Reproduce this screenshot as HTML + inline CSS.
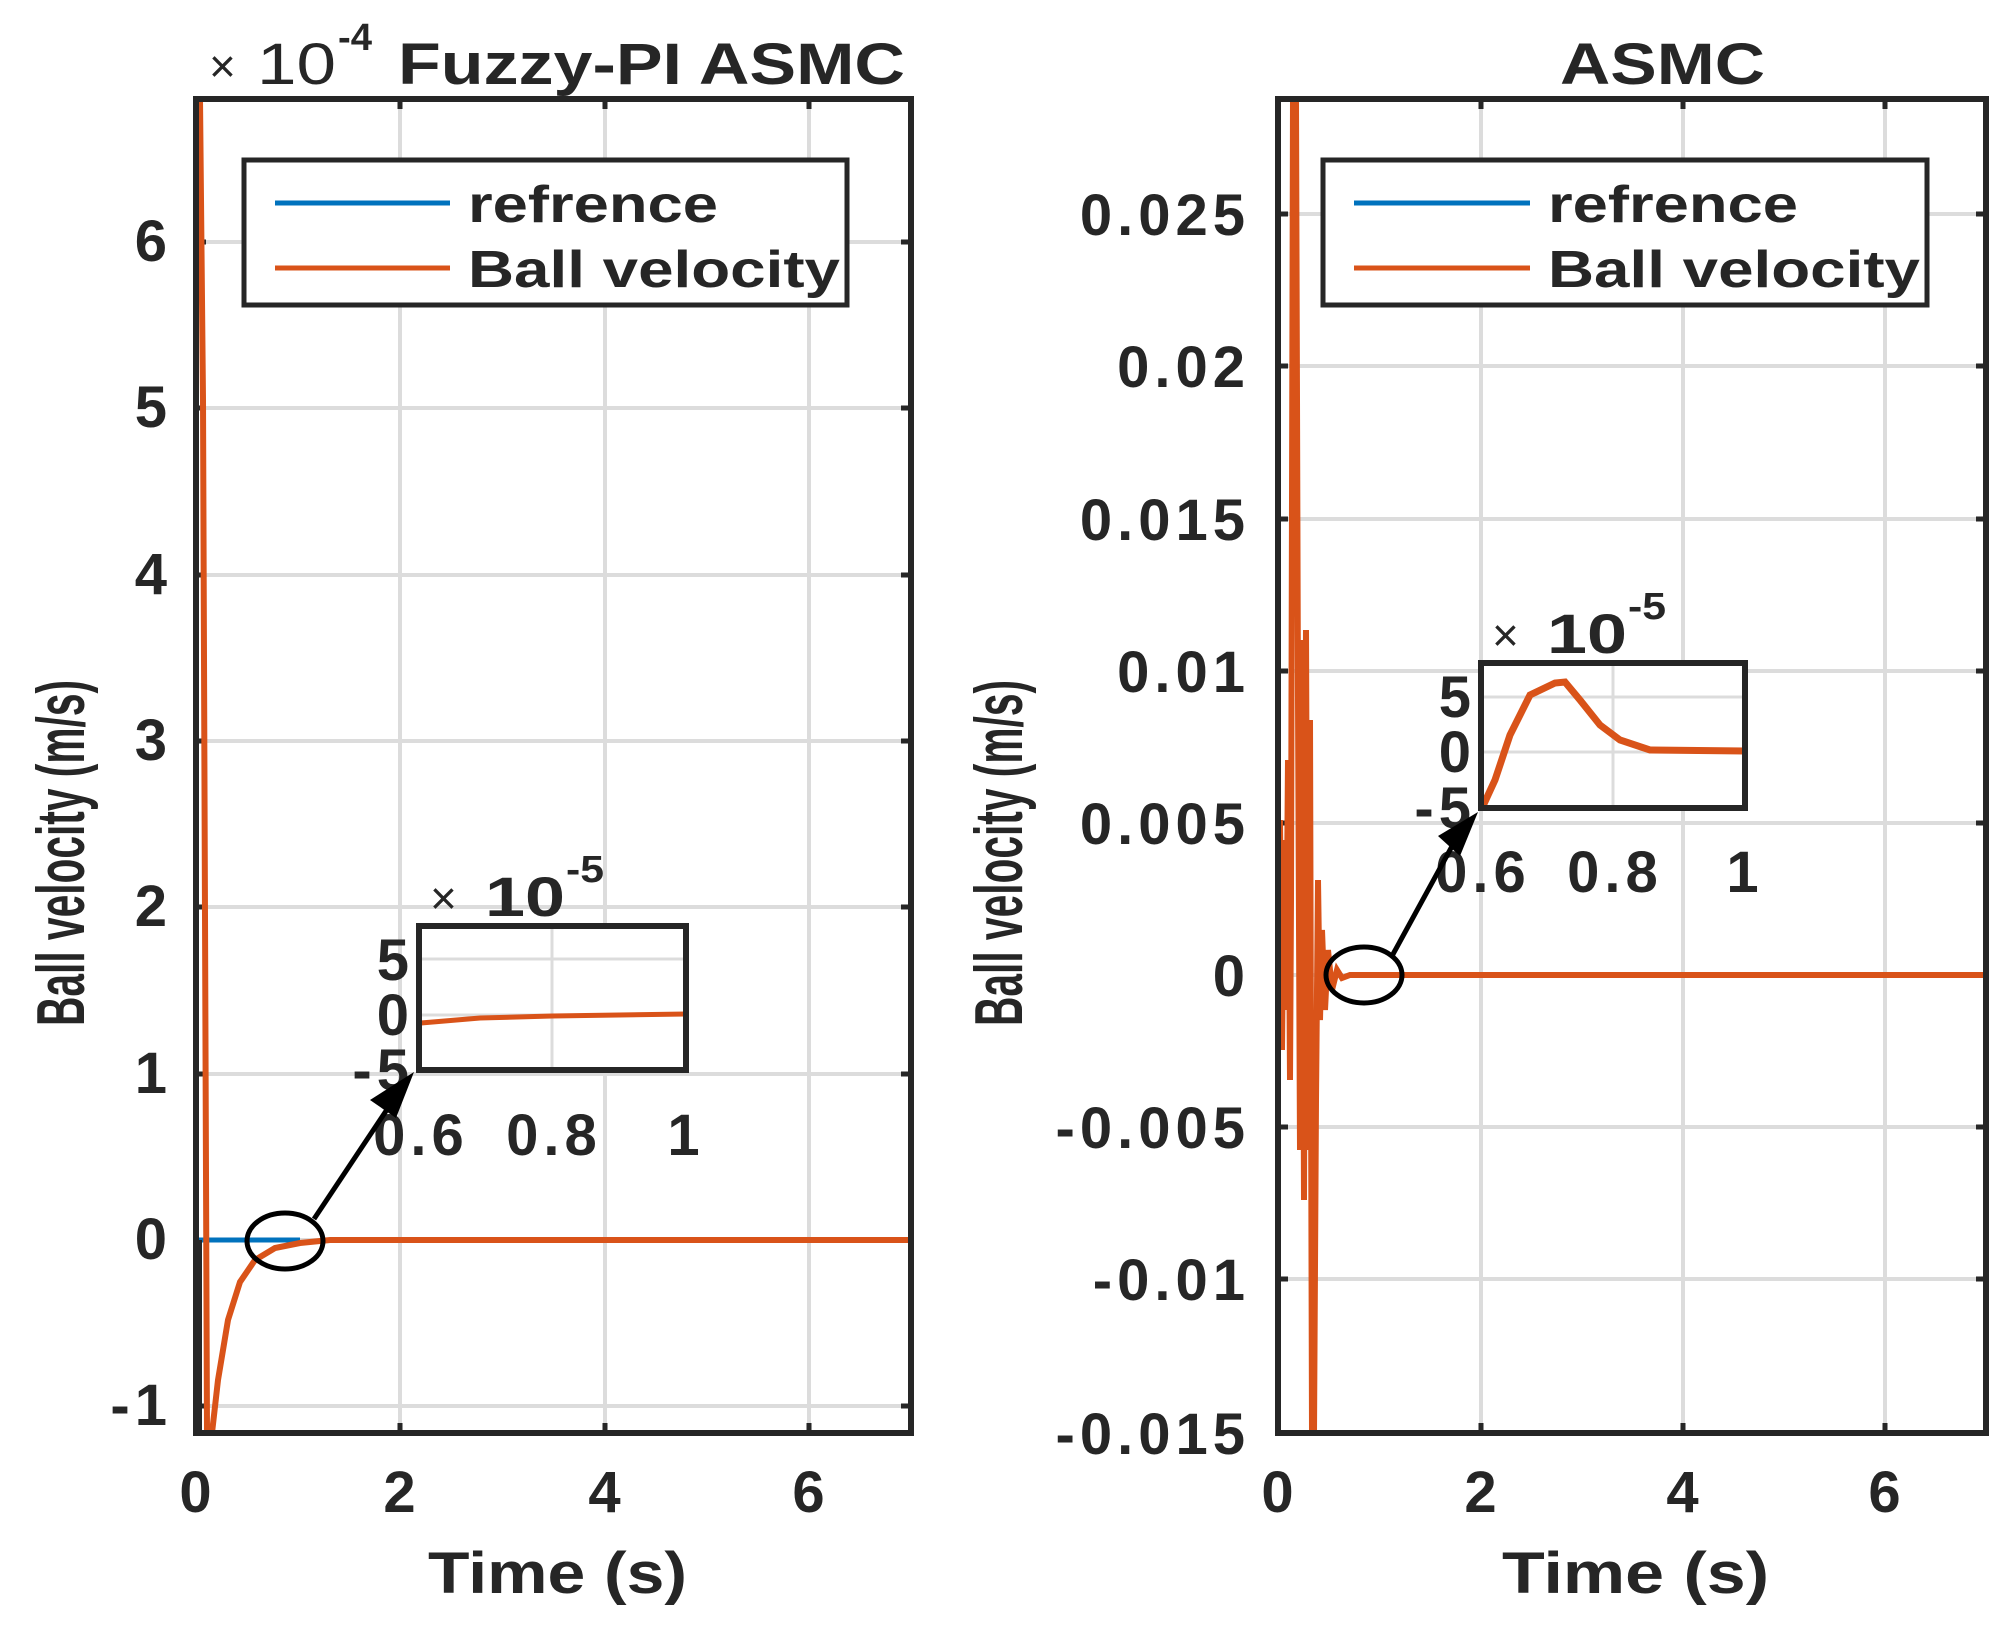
<!DOCTYPE html>
<html><head><meta charset="utf-8"><style>
html,body{margin:0;padding:0;background:#fff}
svg{display:block}
text{font-family:"Liberation Sans",Arial,sans-serif;font-weight:bold;fill:#262626}
.t{font-size:58px;letter-spacing:5px}
</style></head><body>
<svg width="2012" height="1635" viewBox="0 0 2012 1635" xmlns="http://www.w3.org/2000/svg">
<rect width="2012" height="1635" fill="#fff"/>
<!-- LEFT AXES -->
<g stroke="#dcdcdc" stroke-width="4">
<line x1="400" y1="99" x2="400" y2="1433"/><line x1="605" y1="99" x2="605" y2="1433"/><line x1="809" y1="99" x2="809" y2="1433"/>
<line x1="196" y1="1074" x2="911" y2="1074"/><line x1="196" y1="907" x2="911" y2="907"/><line x1="196" y1="741" x2="911" y2="741"/><line x1="196" y1="575" x2="911" y2="575"/><line x1="196" y1="408" x2="911" y2="408"/><line x1="196" y1="242" x2="911" y2="242"/><line x1="196" y1="1406" x2="911" y2="1406"/><line x1="196" y1="1240" x2="911" y2="1240"/>
</g>
<g stroke="#262626" stroke-width="5">
<path d="M400 99v10M605 99v10M809 99v10M400 1433v-10M605 1433v-10M809 1433v-10"/>
<path d="M196 1406h10M196 1240h10M196 1074h10M196 907h10M196 741h10M196 575h10M196 408h10M196 242h10M911 1406h-10M911 1240h-10M911 1074h-10M911 907h-10M911 741h-10M911 575h-10M911 408h-10M911 242h-10"/>
</g>
<line x1="196" y1="1240" x2="300" y2="1240" stroke="#0072bd" stroke-width="5"/>
<line x1="200" y1="1240" x2="200" y2="1433" stroke="#262626" stroke-width="4"/>
<path d="M200 99 L203 400 L207 1433 L212 1433 L218 1380 L228 1320 L240 1282 L255 1260 L275 1248 L300 1243 L330 1240 L911 1240" fill="none" stroke="#d95319" stroke-width="6"/>
<rect x="196" y="99" width="715" height="1334" fill="none" stroke="#262626" stroke-width="6"/>
<g class="t" text-anchor="middle">
<text x="198" y="1512">0</text><text x="402" y="1512">2</text><text x="607" y="1512">4</text><text x="811" y="1512">6</text>
</g>
<g class="t" text-anchor="end">
<text x="172" y="1425">-1</text><text x="172" y="1259">0</text><text x="172" y="1093">1</text><text x="172" y="926">2</text><text x="172" y="760">3</text><text x="172" y="594">4</text><text x="172" y="427">5</text><text x="172" y="261">6</text>
</g>
<text x="428" y="1593" font-size="58" textLength="259" lengthAdjust="spacingAndGlyphs">Time (s)</text>
<text transform="translate(84,853) rotate(-90)" font-size="68" text-anchor="middle" textLength="346" lengthAdjust="spacingAndGlyphs">Ball velocity (m/s)</text>
<text x="209" y="82" font-size="46" style="font-weight:normal">×</text>
<text x="257" y="84" font-size="58" style="font-weight:normal" textLength="79" lengthAdjust="spacingAndGlyphs">10</text>
<text x="338" y="50" font-size="38" textLength="34" lengthAdjust="spacingAndGlyphs">-4</text>
<text x="398" y="84" font-size="58" textLength="507" lengthAdjust="spacingAndGlyphs">Fuzzy-PI ASMC</text>
<!-- legend left -->
<rect x="244" y="160" width="603" height="145" fill="#fff" stroke="#262626" stroke-width="5"/>
<line x1="275" y1="203" x2="450" y2="203" stroke="#0072bd" stroke-width="5"/>
<line x1="275" y1="268" x2="450" y2="268" stroke="#d95319" stroke-width="5"/>
<text x="468" y="222" font-size="52" textLength="250" lengthAdjust="spacingAndGlyphs">refrence</text>
<text x="468" y="287" font-size="52" textLength="372" lengthAdjust="spacingAndGlyphs">Ball velocity</text>
<!-- left inset -->
<rect x="419" y="926" width="267" height="144" fill="#fff"/>
<line x1="552" y1="926" x2="552" y2="1070" stroke="#dcdcdc" stroke-width="3"/>
<line x1="419" y1="959" x2="686" y2="959" stroke="#dcdcdc" stroke-width="3"/>
<line x1="419" y1="1015" x2="686" y2="1015" stroke="#dcdcdc" stroke-width="3"/>
<path d="M421 1023 L480 1018 L552 1016 L686 1014" fill="none" stroke="#d95319" stroke-width="5"/>
<rect x="419" y="926" width="267" height="144" fill="none" stroke="#262626" stroke-width="6"/>
<text x="430" y="914" font-size="46" style="font-weight:normal">×</text>
<text x="485" y="916" font-size="56" textLength="80" lengthAdjust="spacingAndGlyphs">10</text>
<text x="566" y="882" font-size="38" textLength="38" lengthAdjust="spacingAndGlyphs">-5</text>
<g class="t" text-anchor="end"><text x="414" y="980">5</text><text x="414" y="1035">0</text><text x="414" y="1090">-5</text></g>
<g class="t" text-anchor="middle"><text x="421" y="1155">0.6</text><text x="554" y="1155">0.8</text><text x="686" y="1155">1</text></g>
<ellipse cx="285" cy="1241" rx="38" ry="28" fill="none" stroke="#000" stroke-width="5"/>
<line x1="314" y1="1219" x2="400" y2="1090" stroke="#000" stroke-width="5"/>
<polygon points="414,1072 370,1100 396,1118" fill="#000"/>

<!-- RIGHT AXES -->
<g stroke="#dcdcdc" stroke-width="4">
<line x1="1481" y1="99" x2="1481" y2="1433"/><line x1="1683" y1="99" x2="1683" y2="1433"/><line x1="1885" y1="99" x2="1885" y2="1433"/>
<line x1="1278" y1="214" x2="1986" y2="214"/><line x1="1278" y1="366" x2="1986" y2="366"/><line x1="1278" y1="519" x2="1986" y2="519"/><line x1="1278" y1="671" x2="1986" y2="671"/><line x1="1278" y1="823" x2="1986" y2="823"/><line x1="1278" y1="975" x2="1986" y2="975"/><line x1="1278" y1="1127" x2="1986" y2="1127"/><line x1="1278" y1="1279" x2="1986" y2="1279"/>
</g>
<g stroke="#262626" stroke-width="5">
<path d="M1481 99v10M1683 99v10M1885 99v10M1481 1433v-10M1683 1433v-10M1885 1433v-10"/>
<path d="M1278 214h10M1278 366h10M1278 519h10M1278 671h10M1278 823h10M1278 975h10M1278 1127h10M1278 1279h10M1986 214h-10M1986 366h-10M1986 519h-10M1986 671h-10M1986 823h-10M1986 975h-10M1986 1127h-10M1986 1279h-10"/>
</g>
<path d="M1278 975 L1280 820 L1282 1050 L1284 840 L1286 1010 L1288 760 L1290 1080 L1291 900 L1293 99 L1296 99 L1298 700 L1300 1150 L1302 640 L1304 1200 L1306 630 L1308 1150 L1310 720 L1312 1433 L1314 1433 L1316 1100 L1318 880 L1320 1020 L1322 930 L1325 1010 L1328 950 L1332 990 L1337 970 L1342 978 L1350 975 L1986 975" fill="none" stroke="#d95319" stroke-width="6"/>
<rect x="1278" y="99" width="708" height="1334" fill="none" stroke="#262626" stroke-width="6"/>
<g class="t" text-anchor="middle">
<text x="1280" y="1512">0</text><text x="1483" y="1512">2</text><text x="1685" y="1512">4</text><text x="1887" y="1512">6</text>
</g>
<g class="t" text-anchor="end">
<text x="1250" y="235">0.025</text><text x="1250" y="387">0.02</text><text x="1250" y="540">0.015</text><text x="1250" y="692">0.01</text><text x="1250" y="844">0.005</text><text x="1250" y="996">0</text><text x="1250" y="1148">-0.005</text><text x="1250" y="1300">-0.01</text><text x="1250" y="1454">-0.015</text>
</g>
<text x="1502" y="1593" font-size="58" textLength="267" lengthAdjust="spacingAndGlyphs">Time (s)</text>
<text transform="translate(1022,853) rotate(-90)" font-size="68" text-anchor="middle" textLength="346" lengthAdjust="spacingAndGlyphs">Ball velocity (m/s)</text>
<text x="1560" y="84" font-size="58" textLength="205" lengthAdjust="spacingAndGlyphs">ASMC</text>
<rect x="1323" y="160" width="604" height="145" fill="#fff" stroke="#262626" stroke-width="5"/>
<line x1="1354" y1="203" x2="1530" y2="203" stroke="#0072bd" stroke-width="5"/>
<line x1="1354" y1="268" x2="1530" y2="268" stroke="#d95319" stroke-width="5"/>
<text x="1548" y="222" font-size="52" textLength="250" lengthAdjust="spacingAndGlyphs">refrence</text>
<text x="1548" y="287" font-size="52" textLength="372" lengthAdjust="spacingAndGlyphs">Ball velocity</text>
<!-- right inset -->
<rect x="1481" y="663" width="264" height="145" fill="#fff"/>
<line x1="1613" y1="663" x2="1613" y2="808" stroke="#dcdcdc" stroke-width="3"/>
<line x1="1481" y1="697" x2="1745" y2="697" stroke="#dcdcdc" stroke-width="3"/>
<line x1="1481" y1="752" x2="1745" y2="752" stroke="#dcdcdc" stroke-width="3"/>
<path d="M1483 806 L1495 780 L1510 735 L1530 695 L1555 683 L1565 682 L1580 700 L1600 725 L1620 740 L1650 750 L1745 751" fill="none" stroke="#d95319" stroke-width="7"/>
<rect x="1481" y="663" width="264" height="145" fill="none" stroke="#262626" stroke-width="6"/>
<text x="1492" y="651" font-size="46" style="font-weight:normal">×</text>
<text x="1547" y="653" font-size="56" textLength="80" lengthAdjust="spacingAndGlyphs">10</text>
<text x="1628" y="619" font-size="38" textLength="38" lengthAdjust="spacingAndGlyphs">-5</text>
<g class="t" text-anchor="end"><text x="1476" y="717">5</text><text x="1476" y="772">0</text><text x="1476" y="828">-5</text></g>
<g class="t" text-anchor="middle"><text x="1483" y="892">0.6</text><text x="1615" y="892">0.8</text><text x="1745" y="892">1</text></g>
<ellipse cx="1364" cy="975" rx="38" ry="28" fill="none" stroke="#000" stroke-width="5"/>
<line x1="1392" y1="956" x2="1462" y2="828" stroke="#000" stroke-width="5"/>
<polygon points="1478,812 1438,836 1460,856" fill="#000"/>
</svg>
</body></html>
